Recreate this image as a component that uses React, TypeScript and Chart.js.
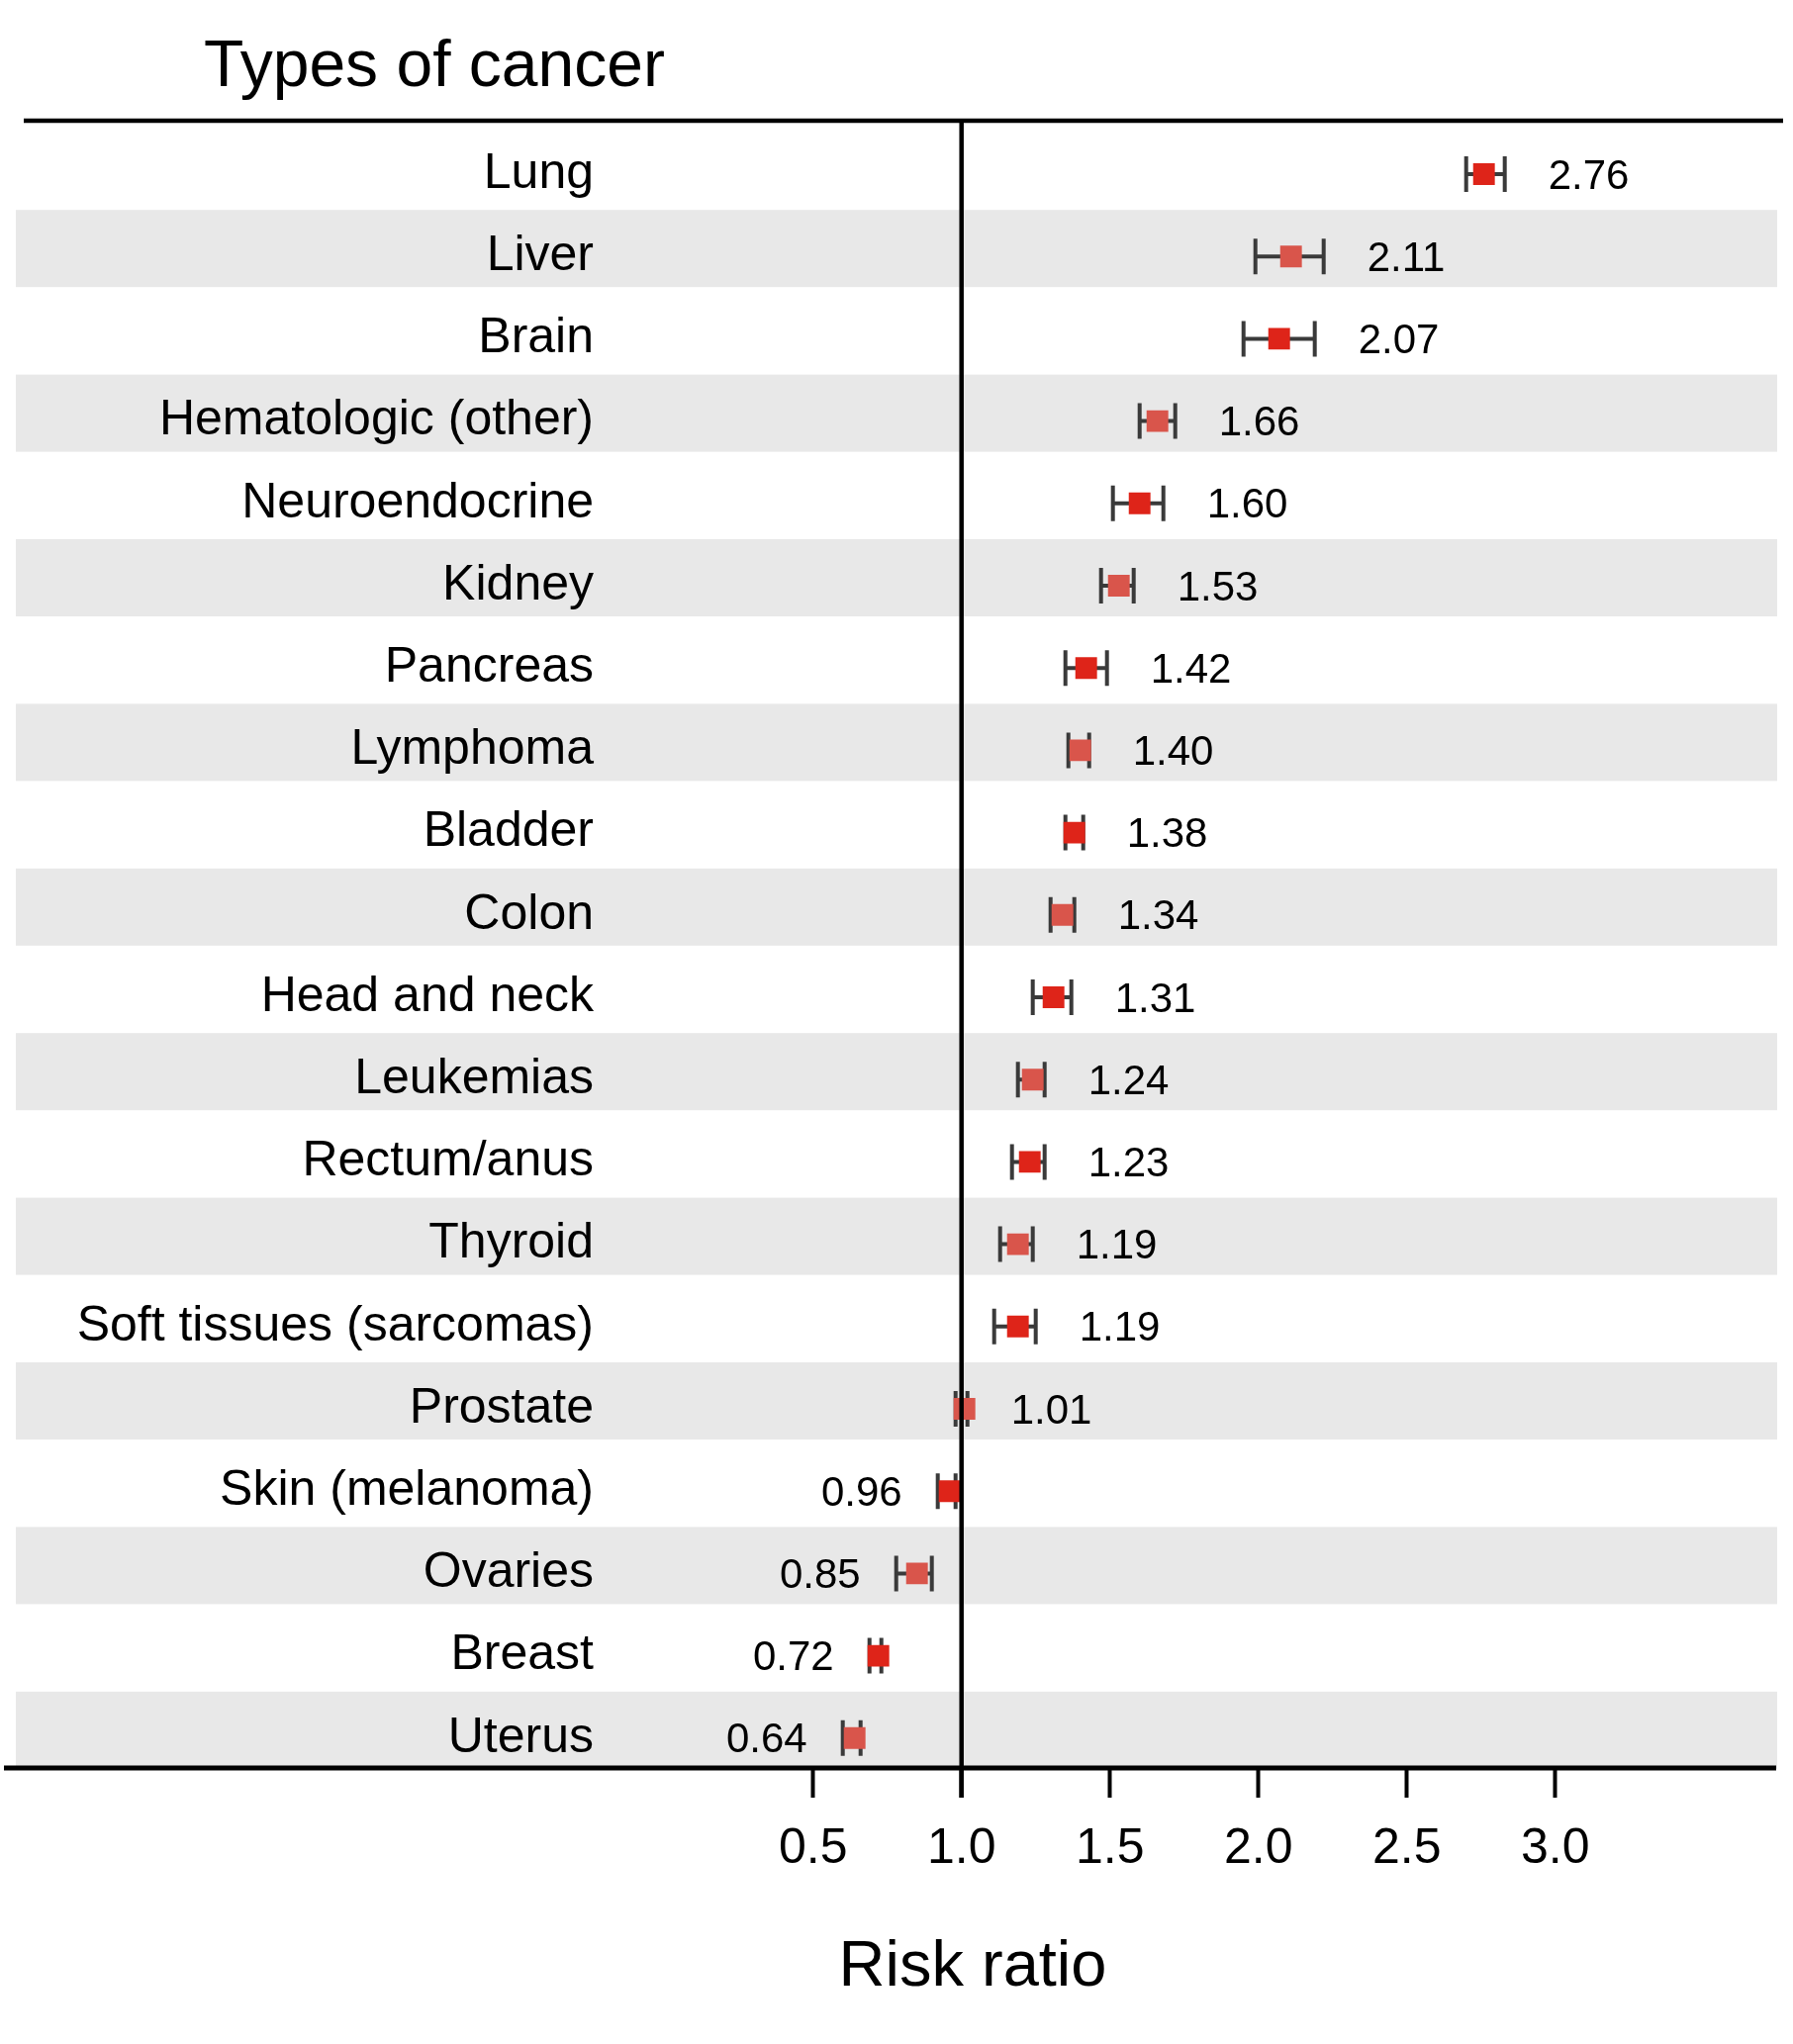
import React, { useEffect, useRef } from 'react';
import { Chart, registerables } from 'chart.js';

Chart.register(...registerables);

// Cancer types, top to bottom
const categories = [
  'Lung',
  'Liver',
  'Brain',
  'Hematologic (other)',
  'Neuroendocrine',
  'Kidney',
  'Pancreas',
  'Lymphoma',
  'Bladder',
  'Colon',
  'Head and neck',
  'Leukemias',
  'Rectum/anus',
  'Thyroid',
  'Soft tissues (sarcomas)',
  'Prostate',
  'Skin (melanoma)',
  'Ovaries',
  'Breast',
  'Uterus',
];

// Point estimates
const riskRatios = [
  2.76, 2.11, 2.07, 1.66, 1.6, 1.53, 1.42, 1.4, 1.38, 1.34,
  1.31, 1.24, 1.23, 1.19, 1.19, 1.01, 0.96, 0.85, 0.72, 0.64,
];

// Confidence interval bounds
const ciLower = [
  2.7, 1.99, 1.95, 1.6, 1.51, 1.47, 1.35, 1.36, 1.35, 1.3,
  1.24, 1.19, 1.17, 1.13, 1.11, 0.98, 0.92, 0.78, 0.69, 0.6,
];
const ciUpper = [
  2.83, 2.22, 2.19, 1.72, 1.68, 1.58, 1.49, 1.43, 1.41, 1.38,
  1.37, 1.28, 1.28, 1.24, 1.25, 1.02, 0.98, 0.9, 0.73, 0.66,
];

const xTicks = [0.5, 1.0, 1.5, 2.0, 2.5, 3.0];
const referenceValue = 1.0;

const chartTitle = 'Types of cancer';
const xAxisTitle = 'Risk ratio';

const FONT = '"Liberation Sans", Arial, Helvetica, sans-serif';
const RED = '#de2419';
const RED_LIGHT = '#d9554b';
const BAND = '#e8e8e8';
const WHISKER = '#3a3a3a';

const forestPlugin = {
  id: 'forestDecorations',
  beforeDraw(chart: any) {
    const { ctx, scales } = chart;
    const y = scales.y;
    ctx.save();
    ctx.fillStyle = BAND;
    categories.forEach((_, i) => {
      if (i % 2 === 1) {
        const c = y.getPixelForValue(i);
        ctx.fillRect(16, c - 47, 1780, 78);
      }
    });
    ctx.restore();
  },
  beforeDatasetsDraw(chart: any) {
    const { ctx, scales } = chart;
    const { x, y } = scales;
    ctx.save();
    ctx.strokeStyle = WHISKER;
    ctx.lineWidth = 4;
    categories.forEach((_, i) => {
      const yc = y.getPixelForValue(i);
      const xl = x.getPixelForValue(ciLower[i]);
      const xh = x.getPixelForValue(ciUpper[i]);
      ctx.beginPath();
      ctx.moveTo(xl, yc);
      ctx.lineTo(xh, yc);
      ctx.moveTo(xl, yc - 18);
      ctx.lineTo(xl, yc + 18);
      ctx.moveTo(xh, yc - 18);
      ctx.lineTo(xh, yc + 18);
      ctx.stroke();
    });
    ctx.restore();
  },
  afterDatasetsDraw(chart: any) {
    const { ctx, scales } = chart;
    const { x, y } = scales;
    ctx.save();
    ctx.fillStyle = '#000';
    ctx.font = `42px ${FONT}`;
    ctx.textBaseline = 'middle';
    categories.forEach((_, i) => {
      const yc = y.getPixelForValue(i) + 3;
      const text = riskRatios[i].toFixed(2);
      if (riskRatios[i] >= referenceValue) {
        ctx.textAlign = 'left';
        ctx.fillText(text, x.getPixelForValue(ciUpper[i]) + 44, yc);
      } else {
        ctx.textAlign = 'right';
        ctx.fillText(text, x.getPixelForValue(ciLower[i]) - 36, yc);
      }
    });
    ctx.restore();
  },
  afterDraw(chart: any) {
    const { ctx, scales, chartArea } = chart;
    const { x } = scales;
    ctx.save();
    ctx.strokeStyle = '#000';
    // header rule
    ctx.lineWidth = 4.5;
    ctx.beginPath();
    ctx.moveTo(24, chartArea.top);
    ctx.lineTo(1802, chartArea.top);
    ctx.stroke();
    // axis rule
    ctx.lineWidth = 5;
    ctx.beginPath();
    ctx.moveTo(4, chartArea.bottom);
    ctx.lineTo(1795, chartArea.bottom);
    ctx.stroke();
    // line of no effect
    const xr = x.getPixelForValue(referenceValue);
    ctx.lineWidth = 4.5;
    ctx.beginPath();
    ctx.moveTo(xr, chartArea.top);
    ctx.lineTo(xr, chartArea.bottom + 30);
    ctx.stroke();

    ctx.fillStyle = '#000';
    ctx.textBaseline = 'alphabetic';
    ctx.font = `66px ${FONT}`;
    ctx.textAlign = 'left';
    ctx.fillText(chartTitle, 206, 87);
    ctx.font = `65px ${FONT}`;
    ctx.textAlign = 'center';
    ctx.fillText(xAxisTitle, 983, 2007);
    ctx.restore();
  },
};

export default function App() {
  const canvasRef = useRef<HTMLCanvasElement | null>(null);

  useEffect(() => {
    document.body.style.margin = '0';
    document.body.style.overflow = 'hidden';
    const canvas = canvasRef.current;
    if (!canvas) return;

    const chart = new Chart(canvas, {
      type: 'scatter',
      data: {
        datasets: [
          {
            data: riskRatios.map((v, i) => ({ x: v, y: i })),
            pointStyle: 'rect',
            pointRadius: 15.5,
            pointHoverRadius: 15.5,
            pointBorderWidth: 0,
            pointBackgroundColor: categories.map((_, i) => (i % 2 === 1 ? RED_LIGHT : RED)),
            pointBorderColor: 'rgba(0,0,0,0)',
          },
        ],
      },
      options: {
        responsive: false,
        animation: false,
        devicePixelRatio: 1,
        events: [],
        layout: { padding: { top: 122, bottom: 79, left: 0, right: 60.3 } },
        plugins: {
          legend: { display: false },
          tooltip: { enabled: false },
          title: { display: false },
        },
        scales: {
          x: {
            type: 'linear',
            min: 0.4,
            max: 3.6,
            afterBuildTicks: (s: any) => {
              s.ticks = xTicks.map((v) => ({ value: v }));
            },
            afterFit: (s: any) => {
              s.height = 200;
              s.paddingLeft = 0;
              s.paddingRight = 0;
            },
            grid: {
              drawOnChartArea: false,
              drawTicks: true,
              tickLength: 30,
              tickWidth: 4,
              tickColor: '#000',
            },
            border: { display: false },
            ticks: {
              font: { family: FONT, size: 50 },
              color: '#000',
              padding: 22,
              autoSkip: false,
              maxRotation: 0,
              callback: (v: any) => Number(v).toFixed(1),
            },
          },
          y: {
            type: 'linear',
            reverse: true,
            min: -0.649,
            max: 19.363,
            afterBuildTicks: (s: any) => {
              s.ticks = categories.map((_, i) => ({ value: i }));
            },
            afterFit: (s: any) => {
              s.width = 791.7;
              s.paddingTop = 0;
              s.paddingBottom = 0;
            },
            grid: { display: false, drawTicks: false, tickLength: 0 },
            border: { display: false },
            ticks: {
              font: { family: FONT, size: 50 },
              color: '#000',
              padding: 191.7,
              autoSkip: false,
              callback: (v: any) => categories[Number(v)] ?? '',
            },
          },
        },
      },
      plugins: [forestPlugin],
    } as any);

    return () => chart.destroy();
  }, []);

  return (
    <div style={{ width: 1812, height: 2066 }}>
      <canvas ref={canvasRef} width={1812} height={2066} style={{ display: 'block' }} />
    </div>
  );
}
